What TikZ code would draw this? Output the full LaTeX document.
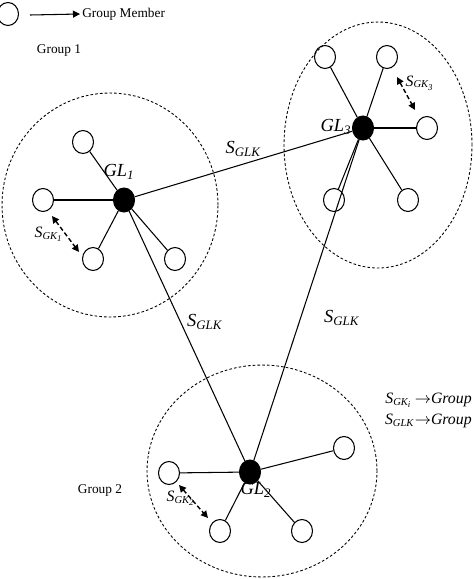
\documentclass[tikz,border=0pt]{standalone}
\usepackage{fontspec}
\setmainfont{Liberation Serif}
\usetikzlibrary{arrows.meta, shapes.geometric}

% italic symbol with subscript, as the figure prints it
\newcommand{\symsub}[2]{\textit{#1}\textsubscript{\textit{#2}}}

\begin{document}
\begin{tikzpicture}[x=0.02cm, y=-0.02cm, line width=0.6pt,
    member/.style={ellipse, draw, minimum width=0.42cm, minimum height=0.46cm, inner sep=0pt},
    leader/.style={ellipse, draw, fill=black, minimum width=0.42cm, minimum height=0.48cm, inner sep=0pt},
    keyarrow/.style={{Triangle[length=4pt,width=4pt]}-{Triangle[length=4pt,width=4pt]}, dashed, dash pattern=on 2.5pt off 1.5pt, line width=0.8pt},
    group/.style={dashed, dash pattern=on 1.5pt off 1.2pt, line width=0.5pt},
    txt/.style={font=\fontsize{7.6}{9}\selectfont, inner sep=1pt},
    sym/.style={font=\fontsize{10.5}{12}\selectfont, inner sep=1pt},
    keysym/.style={font=\fontsize{9}{10}\selectfont, inner sep=1pt}]

        % page frame
        \useasboundingbox (0,0) rectangle (474,579);

        % legend
        \node[member] (lm) at (8,14) {};
        \coordinate (la) at (30,15);
        \node[txt, anchor=west] (lt) at (80,14) {Group Member};
        \draw[-{Triangle[length=4pt,width=4pt]}] (la) -- (lt.west);
        \node[txt] (g1) at (59,50) {Group 1};
        \node[txt] (g2) at (100,490) {Group 2};

        % the three groups
        \draw[group] (110,205) ellipse [x radius=2.16cm, y radius=2.24cm];
        \draw[group] (378,145) ellipse [x radius=1.88cm, y radius=2.46cm];
        \draw[group] (262,471) ellipse [x radius=2.30cm, y radius=2.12cm];

        % group 1
        \node[leader] (gl1) at (124,200) {};
        \node[member] (m11) at (83,142) {};
        \node[member] (m12) at (43,200) {};
        \node[member] (m13) at (93,259) {};
        \node[member] (m14) at (175,259) {};
        \foreach \m in {m11,m12,m13,m14}
                \draw (gl1) -- (\m);
        \node[sym] at (119,172) {\symsub{GL}{1}};
        \coordinate (k1a) at (52,216);
        \coordinate (k1b) at (79,252);
        \draw[keyarrow] (k1a) -- (k1b);
        \node[keysym] at (49,234) {\symsub{S}{GK\textsubscript{1}}};

        % group 3
        \node[leader] (gl3) at (363,128) {};
        \node[member] (m31) at (325,57) {};
        \node[member] (m32) at (387,57) {};
        \node[member] (m33) at (427,128) {};
        \node[member] (m34) at (334,200) {};
        \node[member] (m35) at (408,200) {};
        \foreach \m in {m31,m32,m33,m34,m35}
                \draw (gl3) -- (\m);
        \node[sym] at (336,127) {\symsub{GL}{3}};
        \coordinate (k3a) at (397,77);
        \coordinate (k3b) at (415,110);
        \draw[keyarrow] (k3a) -- (k3b);
        \node[keysym] at (420,83) {\symsub{S}{GK\textsubscript{3}}};

        % group 2
        \node[leader] (gl2) at (250,472) {};
        \node[member] (m21) at (169,473) {};
        \node[member] (m22) at (344,448) {};
        \node[member] (m23) at (220,531) {};
        \node[member] (m24) at (302,531) {};
        \foreach \m in {m21,m22,m23,m24}
                \draw (gl2) -- (\m);
        \node[sym] at (256,490) {\symsub{GL}{2}};
        \coordinate (k2a) at (179,485);
        \coordinate (k2b) at (208,518);
        \draw[keyarrow] (k2a) -- (k2b);
        \node[keysym] at (181,498) {\symsub{S}{GK\textsubscript{2}}};

        % links between leaders
        \draw (gl1) -- (gl3) node[pos=0.5, above=3pt, sym] {\symsub{S}{GLK}};
        \draw (gl1) -- (gl2);
        \draw (gl3) -- (gl2);
        \node[sym] at (205,322) {\symsub{S}{GLK}};
        \node[sym] at (342,318) {\symsub{S}{GLK}};

        % key
        \node[keysym, anchor=east] at (474,400) {\symsub{S}{GK\textsubscript{i}}\,$\rightarrow$\textit{Group}};
        \node[keysym, anchor=east] at (474,421) {\symsub{S}{GLK}$\rightarrow$\textit{Group}};

\end{tikzpicture}
\end{document}
